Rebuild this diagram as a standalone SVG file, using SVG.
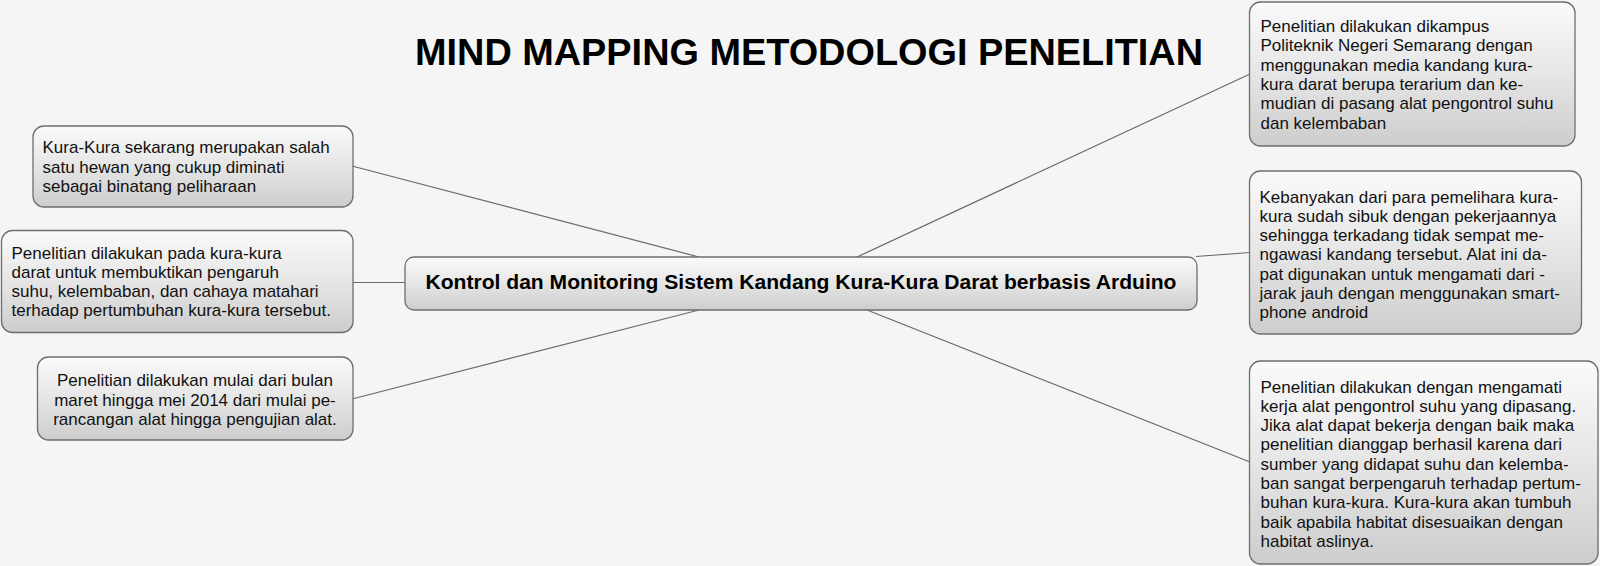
<svg xmlns="http://www.w3.org/2000/svg" width="1600" height="566" viewBox="0 0 1600 566">
<defs>
<linearGradient id="boxfill" x1="0" y1="0" x2="0" y2="1">
<stop offset="0" stop-color="#fafafa"/>
<stop offset="0.45" stop-color="#e8e8e8"/>
<stop offset="1" stop-color="#cdcdcd"/>
</linearGradient>
<style>
.box{fill:url(#boxfill);stroke:#6e6e6e;stroke-width:1.3}
.t{font-family:"Liberation Sans",Arial,sans-serif;font-size:17px;fill:#111}
.c{font-family:"Liberation Sans",Arial,sans-serif;font-size:20px;font-weight:bold;fill:#000}
.title{font-family:"Liberation Sans",Arial,sans-serif;font-size:36px;font-weight:bold;fill:#000}
.con{stroke:#6a6a6a;stroke-width:1.2;fill:none}
</style>
</defs>
<rect x="0" y="0" width="1600" height="566" fill="#f5f5f5"/>
<text class="title" x="809" y="65" text-anchor="middle" textLength="788" lengthAdjust="spacingAndGlyphs">MIND MAPPING METODOLOGI PENELITIAN</text>
<g id="connectors">
<line class="con" x1="352" y1="166" x2="699" y2="257"/>
<line class="con" x1="352" y1="282.5" x2="405" y2="282.5"/>
<line class="con" x1="352" y1="399" x2="699" y2="310"/>
<line class="con" x1="857" y1="257" x2="1250" y2="74"/>
<line class="con" x1="1196" y1="256.5" x2="1250" y2="252.5"/>
<line class="con" x1="867" y1="310" x2="1250" y2="462"/>
</g>
<g id="center">
<rect class="box" x="405" y="257" width="792" height="53" rx="9"/>
<text class="c" x="801" y="288.5" text-anchor="middle" textLength="751" lengthAdjust="spacingAndGlyphs">Kontrol dan Monitoring Sistem Kandang Kura-Kura Darat berbasis Arduino</text>
</g>
<g id="node1">
<rect class="box" x="33" y="126" width="320" height="81" rx="11"/>
<text class="t"><tspan x="42.5" y="153">Kura-Kura sekarang merupakan salah</tspan><tspan x="42.5" y="172.5">satu hewan yang cukup diminati</tspan><tspan x="42.5" y="192">sebagai binatang peliharaan</tspan></text>
</g>
<g id="node2">
<rect class="box" x="1.5" y="230.5" width="351.5" height="102" rx="11"/>
<text class="t"><tspan x="11.5" y="258.5">Penelitian dilakukan pada kura-kura</tspan><tspan x="11.5" y="277.8">darat untuk membuktikan pengaruh</tspan><tspan x="11.5" y="297.1">suhu, kelembaban, dan cahaya matahari</tspan><tspan x="11.5" y="316.4">terhadap pertumbuhan kura-kura tersebut.</tspan></text>
</g>
<g id="node3">
<rect class="box" x="37.5" y="357" width="315.5" height="83" rx="11"/>
<text class="t" text-anchor="middle"><tspan x="195" y="386">Penelitian dilakukan mulai dari bulan</tspan><tspan x="195" y="405.5">maret hingga mei 2014 dari mulai pe-</tspan><tspan x="195" y="425">rancangan alat hingga pengujian alat.</tspan></text>
</g>
<g id="node4">
<rect class="box" x="1249.5" y="2" width="325.5" height="144" rx="11"/>
<text class="t"><tspan x="1260.5" y="32">Penelitian dilakukan dikampus</tspan><tspan x="1260.5" y="51.3">Politeknik Negeri Semarang dengan</tspan><tspan x="1260.5" y="70.6">menggunakan media kandang kura-</tspan><tspan x="1260.5" y="89.9">kura darat berupa terarium dan ke-</tspan><tspan x="1260.5" y="109.2">mudian di pasang alat pengontrol suhu</tspan><tspan x="1260.5" y="128.5">dan kelembaban</tspan></text>
</g>
<g id="node5">
<rect class="box" x="1249.5" y="171" width="332" height="163" rx="11"/>
<text class="t"><tspan x="1259.5" y="202.5">Kebanyakan dari para pemelihara kura-</tspan><tspan x="1259.5" y="221.8">kura sudah sibuk dengan pekerjaannya</tspan><tspan x="1259.5" y="241.1">sehingga terkadang tidak sempat me-</tspan><tspan x="1259.5" y="260.4">ngawasi kandang tersebut. Alat ini da-</tspan><tspan x="1259.5" y="279.7">pat digunakan untuk mengamati dari -</tspan><tspan x="1259.5" y="299">jarak jauh dengan menggunakan smart-</tspan><tspan x="1259.5" y="318.3">phone android</tspan></text>
</g>
<g id="node6">
<rect class="box" x="1249.5" y="361" width="348.5" height="203" rx="11"/>
<text class="t"><tspan x="1260.5" y="392.5">Penelitian dilakukan dengan mengamati</tspan><tspan x="1260.5" y="411.8">kerja alat pengontrol suhu yang dipasang.</tspan><tspan x="1260.5" y="431.1">Jika alat dapat bekerja dengan baik maka</tspan><tspan x="1260.5" y="450.4">penelitian dianggap berhasil karena dari</tspan><tspan x="1260.5" y="469.7">sumber yang didapat suhu dan kelemba-</tspan><tspan x="1260.5" y="489">ban sangat berpengaruh terhadap pertum-</tspan><tspan x="1260.5" y="508.3">buhan kura-kura. Kura-kura akan tumbuh</tspan><tspan x="1260.5" y="527.6">baik apabila habitat disesuaikan dengan</tspan><tspan x="1260.5" y="546.9">habitat aslinya.</tspan></text>
</g>
</svg>
